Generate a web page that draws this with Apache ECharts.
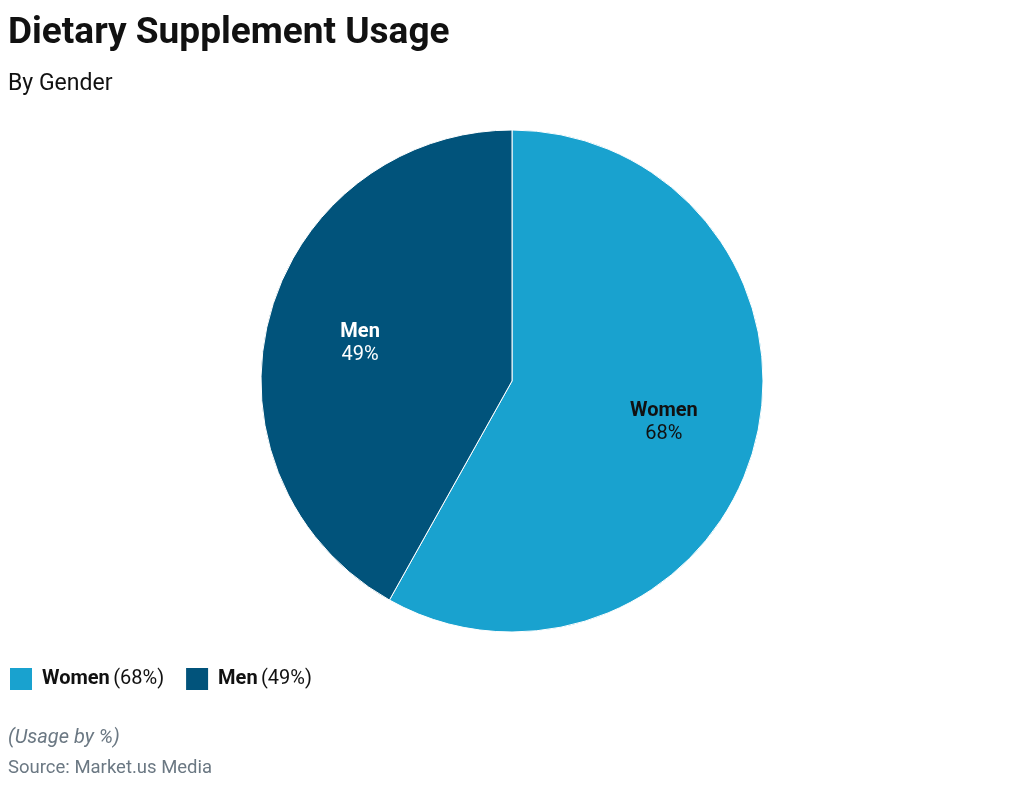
<!DOCTYPE html>
<html><head><meta charset="utf-8">
<script src="https://cdn.jsdelivr.net/npm/echarts@6/dist/echarts.min.js"></script>
<style>html,body{margin:0;padding:0;background:#fff}#c{width:1023px;height:786px}</style>
</head><body><div id="c"></div>
<script>
const categories = ['Women', 'Men'];
const values = [68, 49];
const colors = ['#19A2CF', '#01537B'];
const labelColors = ['#111111', '#ffffff'];

const data = categories.map((n, i) => ({ name: n, value: values[i], itemStyle: { color: colors[i] } }));
const labelData = categories.map((n, i) => ({
  name: n, value: values[i],
  itemStyle: { color: 'transparent' },
  label: { color: labelColors[i] }
}));

const chart = echarts.init(document.getElementById('c'));
chart.setOption({
  animation: false,
  title: [
    { text: 'Dietary Supplement Usage', left: 3, top: 10, textStyle: { fontFamily: 'Roboto', fontSize: 37, fontWeight: 'bold', color: '#111' } },
    { text: 'By Gender', left: 3, top: 68, textStyle: { fontFamily: 'Roboto', fontSize: 23, fontWeight: 'normal', color: '#111' } },
    { text: '(Usage by %)', left: 3, top: 723, textStyle: { fontFamily: 'Roboto', fontSize: 20, fontStyle: 'italic', fontWeight: 'normal', color: '#6b7883' } },
    { text: 'Source: Market.us Media', left: 3, top: 754, textStyle: { fontFamily: 'Roboto', fontSize: 18.5, fontWeight: 'normal', color: '#6b7883' } }
  ],
  legend: {
    left: 3, top: 661, itemWidth: 24, itemHeight: 24, itemGap: 20,
    icon: 'rect',
    data: categories,
    formatter: function (name) {
      const i = categories.indexOf(name);
      return '{b|' + name + '} {n|(' + values[i] + '%)}';
    },
    textStyle: {
      rich: {
        b: { fontFamily: 'Roboto', fontSize: 20, fontWeight: 'bold', color: '#111', padding: [0, 0, 0, 4] },
        n: { fontFamily: 'Roboto', fontSize: 20, color: '#111' }
      }
    }
  },
  series: [
    {
      type: 'pie', center: [512, 381], radius: [0, 251], startAngle: 90, clockwise: true,
      data: data,
      label: { show: false }, labelLine: { show: false },
      itemStyle: { borderColor: '#ffffff', borderWidth: 1 },
      emphasis: { disabled: true }
    },
    {
      type: 'pie', center: [512, 381], radius: [0, 308], startAngle: 90, clockwise: true,
      silent: true,
      data: labelData,
      labelLine: { show: false },
      label: {
        show: true, position: 'inside', offset: [0, 2],
        formatter: function (p) { return '{b|' + p.name + '}\n{n|' + p.value + '%}'; },
        rich: {
          b: { fontFamily: 'Roboto', fontSize: 20, fontWeight: 'bold', lineHeight: 23 },
          n: { fontFamily: 'Roboto', fontSize: 20, lineHeight: 23 }
        }
      },
      emphasis: { disabled: true }
    }
  ]
});
</script></body></html>
